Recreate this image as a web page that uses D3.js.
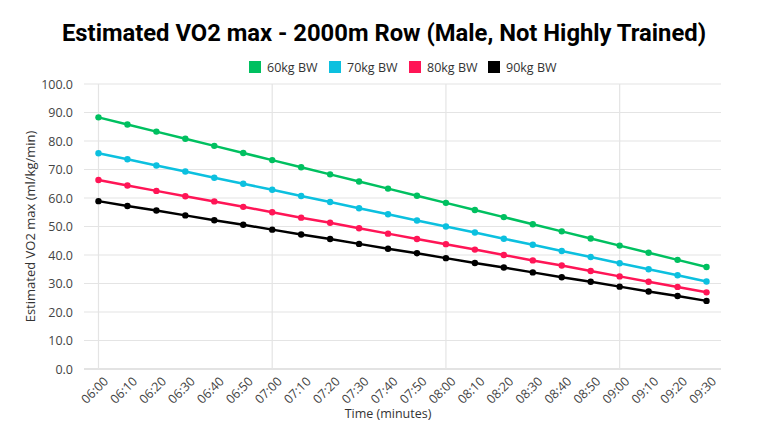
<!DOCTYPE html>
<html>
<head>
<meta charset="utf-8">
<script src="https://cdn.jsdelivr.net/npm/d3@7"></script>
<style>
  body { margin: 0; background: #fff; }
  text { font-family: "Open Sans", sans-serif; }
</style>
</head>
<body>
<svg id="grafico" width="768" height="432"></svg>
<script>
// Datos
var tiempos = ["06:00","06:10","06:20","06:30","06:40","06:50","07:00","07:10","07:20","07:30","07:40","07:50",
               "08:00","08:10","08:20","08:30","08:40","08:50","09:00","09:10","09:20","09:30"];
var bw60 = [88.3,85.8,83.3,80.8,78.3,75.8,73.3,70.8,68.3,65.8,63.3,60.8,58.3,55.8,53.3,50.8,48.3,45.8,43.3,40.8,38.3,35.8];
var bw70 = [75.7,73.6,71.4,69.3,67.1,65.0,62.9,60.7,58.6,56.4,54.3,52.1,50.0,47.9,45.7,43.6,41.4,39.3,37.1,35.0,32.9,30.7];
var bw80 = [66.3,64.4,62.5,60.6,58.8,56.9,55.0,53.1,51.3,49.4,47.5,45.6,43.8,41.9,40.0,38.1,36.3,34.4,32.5,30.6,28.8,26.9];
var bw90 = [58.9,57.2,55.6,53.9,52.2,50.6,48.9,47.2,45.6,43.9,42.2,40.6,38.9,37.2,35.6,33.9,32.2,30.6,28.9,27.2,25.6,23.9];
var nombresSeries = ["60kg BW", "70kg BW", "80kg BW", "90kg BW"];
var ticksY = [0,10,20,30,40,50,60,70,80,90,100];
var lineasVerticales = ["06:00", "07:00", "08:00", "09:00"];

var series = [bw60, bw70, bw80, bw90];
var colores = ["#00c060", "#0cc0df", "#ff1556", "#000000"];

var svg = d3.select("#grafico");

var izq = 84, der = 721, arriba = 84, abajo = 369;

var x = d3.scalePoint().domain(tiempos).range([izq, der]).padding(0.5);
var y = d3.scaleLinear().domain([0, 100]).range([abajo, arriba]);

//Titulo
svg.append("text")
    .attr("x", 384).attr("y", 41)
    .attr("text-anchor", "middle")
    .attr("textLength", 644)
    .attr("lengthAdjust", "spacingAndGlyphs")
    .style("font-family", "Roboto, sans-serif")
    .style("font-size", "24.5px")
    .style("font-weight", "700")
    .style("fill", "#000")
    .text("Estimated VO2 max - 2000m Row (Male, Not Highly Trained)");

//Leyenda
var posLeyenda = [249, 329, 409, 488];
var leyenda = svg.selectAll(".leyenda")
    .data(nombresSeries)
    .join("g")
    .attr("class", "leyenda")
    .attr("transform", function (d, i) { return "translate(" + posLeyenda[i] + ",61)"; });
leyenda.append("rect")
    .attr("width", 12).attr("height", 12)
    .style("fill", function (d, i) { return colores[i]; });
leyenda.append("text")
    .attr("x", 18).attr("y", 11)
    .style("font-size", "12.5px")
    .style("fill", "#333")
    .text(function (d) { return d; });

//Rejilla horizontal
svg.append("g")
    .selectAll("line")
    .data(ticksY)
    .join("line")
    .attr("x1", izq).attr("x2", der)
    .attr("y1", function (d) { return y(d); })
    .attr("y2", function (d) { return y(d); })
    .style("stroke", function (d) { return d === 0 ? "#c8c8c8" : "#e4e4e4"; })
    .style("stroke-width", 1.2);

//Rejilla vertical
svg.append("g")
    .selectAll("line")
    .data(lineasVerticales)
    .join("line")
    .attr("x1", function (d) { return x(d); })
    .attr("x2", function (d) { return x(d); })
    .attr("y1", arriba).attr("y2", abajo)
    .style("stroke", "#e4e4e4")
    .style("stroke-width", 1.2);

//Eje Y
var ejeY = svg.append("g")
    .attr("transform", "translate(" + (izq - 8) + ",0)")
    .call(d3.axisLeft(y).tickValues(ticksY).tickFormat(d3.format(".1f")).tickSize(0));
ejeY.select(".domain").remove();
ejeY.selectAll("text")
    .style("font-size", "12.5px")
    .style("fill", "#444")
    .style("font-family", "'Open Sans', sans-serif");

//Eje X
var ejeX = svg.append("g")
    .attr("transform", "translate(0," + abajo + ")")
    .call(d3.axisBottom(x).tickSize(0));
ejeX.select(".domain").remove();
ejeX.selectAll("text")
    .attr("transform", "translate(3,6) rotate(-45)")
    .attr("text-anchor", "end")
    .attr("dy", "0.8em")
    .attr("dx", "0")
    .attr("y", 0)
    .style("font-size", "12.5px")
    .style("fill", "#444")
    .style("font-family", "'Open Sans', sans-serif");

//Titulos de ejes
svg.append("text")
    .attr("x", 388).attr("y", 418)
    .attr("text-anchor", "middle")
    .style("font-size", "12.5px")
    .style("fill", "#333")
    .text("Time (minutes)");
svg.append("text")
    .attr("transform", "translate(35," + ((arriba + abajo) / 2) + ") rotate(-90)")
    .attr("text-anchor", "middle")
    .style("font-size", "13px")
    .style("fill", "#333")
    .text("Estimated VO2 max (ml/kg/min)");

//Lineas y puntos
var linea = d3.line()
    .x(function (d, i) { return x(tiempos[i]); })
    .y(function (d) { return y(d); });

var grupos = svg.selectAll(".serie")
    .data(series)
    .join("g")
    .attr("class", "serie");
grupos.append("path")
    .attr("d", linea)
    .style("fill", "none")
    .style("stroke", function (d, i) { return colores[i]; })
    .style("stroke-width", 2.5);
grupos.each(function (s, i) {
    d3.select(this).selectAll("circle")
        .data(s)
        .join("circle")
        .attr("cx", function (d, j) { return x(tiempos[j]); })
        .attr("cy", function (d) { return y(d); })
        .attr("r", 3.2)
        .style("fill", colores[i]);
});
</script>
</body>
</html>
